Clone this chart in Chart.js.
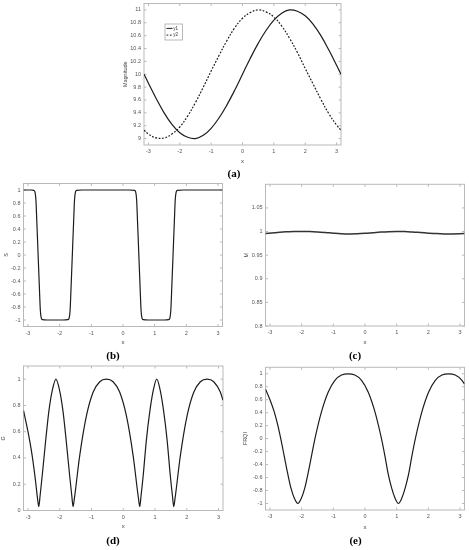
<!DOCTYPE html>
<html><head><meta charset="utf-8">
<script src="https://cdn.jsdelivr.net/npm/chart.js@4"></script>
<style>
body{margin:0;background:#fff;width:469px;height:550px;position:relative;overflow:hidden}
canvas{position:absolute}
.cap{position:absolute;font:bold 11px "Liberation Serif","Times New Roman",serif;color:#000;transform:translate(-50%,-50%);white-space:nowrap;line-height:1}
</style></head><body>
<script>
// ---------- data ----------
const xTicks = [-3, -2, -1, 0, 1, 2, 3];
const xTickLabels = ['-3', '-2', '-1', '0', '1', '2', '3'];

// (a) Magnitude
const xA = [-3.14,-3.0,-2.75,-2.5,-2.25,-2.0,-1.75,-1.5,-1.25,-1.0,-0.75,-0.5,-0.25,0,0.25,0.5,0.75,1.0,1.25,1.5,1.75,2.0,2.25,2.5,2.75,3.0,3.14];
const y1 = [10.00,9.86,9.62,9.40,9.22,9.09,9.02,9.00,9.05,9.16,9.32,9.52,9.75,10.00,10.25,10.48,10.68,10.84,10.95,11.00,10.98,10.91,10.78,10.60,10.38,10.14,10.00];
const y2 = [9.13,9.07,9.01,9.01,9.07,9.18,9.35,9.56,9.80,10.05,10.29,10.52,10.72,10.87,10.96,11.00,10.97,10.89,10.75,10.56,10.34,10.09,9.85,9.61,9.39,9.21,9.13];
const yTicksA = [9, 9.2, 9.4, 9.6, 9.8, 10, 10.2, 10.4, 10.6, 10.8, 11];
const yLabelsA = ['9','9.2','9.4','9.6','9.8','10','10.2','10.4','10.6','10.8','11'];

// (b) S
const xS = [-3.14,-3.0,-2.9,-2.82,-2.78,-2.75,-2.72,-2.68,-2.64,-2.61,-2.58,-2.54,-2.4,-2.1,-1.9,-1.74,-1.70,-1.67,-1.64,-1.60,-1.56,-1.53,-1.50,-1.46,-1.3,0,0.2,0.36,0.40,0.43,0.46,0.50,0.54,0.57,0.60,0.64,0.8,1.1,1.3,1.44,1.48,1.51,1.54,1.58,1.62,1.65,1.68,1.72,1.9,2.5,3.14];
const yS = [1,1,1,0.995,0.97,0.85,0.5,0,-0.5,-0.85,-0.97,-0.995,-1,-1,-1,-0.995,-0.97,-0.85,-0.5,0,0.5,0.85,0.97,0.995,1,1,1,0.995,0.97,0.85,0.5,0,-0.5,-0.85,-0.97,-0.995,-1,-1,-1,-0.995,-0.97,-0.85,-0.5,0,0.5,0.85,0.97,0.995,1,1,1];
const yTicksB = [-1,-0.8,-0.6,-0.4,-0.2,0,0.2,0.4,0.6,0.8,1];
const yLabelsB = ['-1','-0.8','-0.6','-0.4','-0.2','0','0.2','0.4','0.6','0.8','1'];

// (c) M
const xM = [-3.14,-2.75,-2.5,-2.25,-2.0,-1.75,-1.5,-1.25,-1.0,-0.75,-0.5,-0.25,0,0.25,0.5,0.75,1.0,1.25,1.5,1.75,2.0,2.25,2.5,2.75,3.14];
const yM = [0.9960,0.9982,0.9994,1.0000,1.0002,1.0000,0.9992,0.9980,0.9966,0.9955,0.9950,0.9953,0.9962,0.9975,0.9988,0.9997,1.0001,0.9999,0.9990,0.9978,0.9966,0.9956,0.9950,0.9950,0.9957];
const yTicksC = [0.8, 0.85, 0.9, 0.95, 1, 1.05];
const yLabelsC = ['0.8','0.85','0.9','0.95','1','1.05'];

// (d) G
const xG = [-3.14,-3.0,-2.87,-2.76,-2.70,-2.66,-2.62,-2.55,-2.44,-2.34,-2.23,-2.12,-2.01,-1.90,-1.80,-1.69,-1.62,-1.58,-1.54,-1.37,-1.16,-0.95,-0.74,-0.53,-0.32,-0.11,0.10,0.31,0.48,0.52,0.56,0.63,0.73,0.84,0.95,1.055,1.16,1.27,1.38,1.48,1.55,1.59,1.63,1.80,2.01,2.22,2.43,2.64,2.85,3.06,3.14];
const yG = [0.76,0.60,0.42,0.22,0.09,0.03,0.11,0.27,0.54,0.76,0.92,1.0,0.92,0.76,0.54,0.27,0.11,0.03,0.09,0.42,0.72,0.90,0.98,1.0,0.98,0.90,0.72,0.42,0.09,0.03,0.11,0.27,0.54,0.76,0.92,1.0,0.92,0.76,0.54,0.27,0.11,0.03,0.09,0.42,0.72,0.90,0.98,1.0,0.98,0.90,0.84];
const yTicksD = [0, 0.2, 0.4, 0.6, 0.8, 1];
const yLabelsD = ['0','0.2','0.4','0.6','0.8','1'];

// (e) FRQI
const xF = [-3.14,-3.0,-2.87,-2.76,-2.66,-2.55,-2.44,-2.34,-2.23,-2.12,-2.01,-1.90,-1.80,-1.69,-1.58,-1.37,-1.16,-0.95,-0.74,-0.53,-0.32,-0.11,0.10,0.31,0.52,0.63,0.73,0.84,0.95,1.055,1.16,1.27,1.38,1.48,1.59,1.80,2.01,2.22,2.43,2.64,2.85,3.06,3.14];
const yF = [0.76,0.60,0.42,0.22,0,-0.27,-0.54,-0.76,-0.92,-1.0,-0.92,-0.76,-0.54,-0.27,0,0.42,0.72,0.90,0.98,1.0,0.98,0.90,0.72,0.42,0,-0.27,-0.54,-0.76,-0.92,-1.0,-0.92,-0.76,-0.54,-0.27,0,0.42,0.72,0.90,0.98,1.0,0.98,0.90,0.84];
const yTicksE = yTicksB;
const yLabelsE = yLabelsB;

// ---------- drawing ----------
const FONT = '"Liberation Sans", Arial, sans-serif';
const TICK_SIZE = 5.5, XT_SIZE = 6, YT_SIZE = 5.5;
const AXIS_GRAY = '#b9b9b9';

const pts = (xs, ys) => xs.map((x, i) => ({x, y: ys[i]}));

const frame = {
  id: 'frame',
  beforeDatasetsDraw(chart) {
    const {ctx, chartArea: {left, right, top, bottom}, scales: {x, y}} = chart;
    ctx.save();
    ctx.strokeStyle = AXIS_GRAY; ctx.lineWidth = 1;
    ctx.strokeRect(left, top, right - left, bottom - top);
    const t = 2.5;
    ctx.beginPath();
    x.ticks.forEach(tk => {
      const px = x.getPixelForValue(tk.value);
      ctx.moveTo(px, bottom); ctx.lineTo(px, bottom - t);
      ctx.moveTo(px, top); ctx.lineTo(px, top + t);
    });
    y.ticks.forEach(tk => {
      const py = y.getPixelForValue(tk.value);
      ctx.moveTo(left, py); ctx.lineTo(left + t, py);
      ctx.moveTo(right, py); ctx.lineTo(right - t, py);
    });
    ctx.stroke();
    ctx.restore();
  }
};

const innerLegend = {
  id: 'innerLegend',
  afterDraw(chart) {
    const {ctx, chartArea: {left, top}} = chart;
    const bx = left + 21, by = top + 20.5, bw = 17.5, bh = 16;
    ctx.save();
    ctx.fillStyle = '#fff'; ctx.fillRect(bx, by, bw, bh);
    ctx.strokeStyle = '#a8a8a8'; ctx.lineWidth = 0.8; ctx.strokeRect(bx, by, bw, bh);
    chart.data.datasets.forEach((ds, i) => {
      const yy = by + 4.4 + i * 6.7;
      ctx.strokeStyle = ds.borderColor; ctx.lineWidth = 1;
      ctx.setLineDash(ds.borderDash || []);
      ctx.beginPath(); ctx.moveTo(bx + 1.5, yy); ctx.lineTo(bx + 7.5, yy); ctx.stroke();
      ctx.setLineDash([]);
      ctx.fillStyle = '#333'; ctx.font = '4.5px ' + FONT; ctx.textBaseline = 'middle';
      ctx.fillText(ds.label, bx + 8.2, yy);
    });
    ctx.restore();
  }
};

function panel(p) {
  const [cx, cy, cw, ch] = p.rect, [L, R, T, B] = p.box;
  const c = document.createElement('canvas');
  c.width = cw; c.height = ch;
  c.style.left = cx + 'px'; c.style.top = cy + 'px';
  c.style.width = cw + 'px'; c.style.height = ch + 'px';
  document.body.appendChild(c);
  const yHalf = YT_SIZE * 1.2 / 2, xHalf = XT_SIZE * 1.2 / 2;
  const pl = p.yTitleX - cx - yHalf;
  const yw = L - cx - pl;
  const xh = p.xTitleY - B + xHalf;
  const pb = cy + ch - B - xh;
  new Chart(c, {
    type: 'line',
    data: {datasets: p.datasets},
    options: {
      responsive: false, animation: false, devicePixelRatio: 1,
      layout: {autoPadding: false, padding: {left: pl, right: cx + cw - R, top: T - cy, bottom: pb}},
      plugins: {legend: {display: false}, tooltip: {enabled: false}},
      elements: {point: {radius: 0}},
      events: [],
      scales: {
        x: {
          type: 'linear', min: -Math.PI, max: Math.PI, bounds: 'data',
          afterBuildTicks: s => { s.ticks = xTicks.map(v => ({value: v})); },
          afterFit: s => { s.height = xh; s.paddingLeft = 0; s.paddingRight = 0; },
          grid: {display: false, drawTicks: false}, border: {display: false},
          ticks: {autoSkip: false, maxRotation: 0, padding: 3.2, color: '#555',
                  font: {size: TICK_SIZE, family: FONT}, callback: (v, i) => xTickLabels[i]},
          title: {display: true, text: 'x', color: '#444', padding: 0,
                  font: {size: XT_SIZE, family: FONT}}
        },
        y: {
          type: 'linear', min: p.ymin, max: p.ymax, bounds: 'data',
          afterBuildTicks: s => { s.ticks = p.yTicks.map(v => ({value: v})); },
          afterFit: s => { s.width = yw; s.paddingTop = 0; s.paddingBottom = 0; },
          grid: {display: false, drawTicks: false}, border: {display: false},
          ticks: {autoSkip: false, padding: 3, color: '#555',
                  font: {size: TICK_SIZE, family: FONT}, callback: (v, i) => p.yLabels[i]},
          title: {display: true, text: p.yTitle, color: '#444', padding: 0,
                  font: {size: YT_SIZE, family: FONT}}
        }
      }
    },
    plugins: p.legend ? [frame, innerLegend] : [frame]
  });
}

const lineDs = (label, xs, ys, extra) => Object.assign({
  label, data: pts(xs, ys), borderColor: '#1c1c1c', borderWidth: 1.2,
  fill: false, pointRadius: 0, cubicInterpolationMode: 'monotone'
}, extra || {});

panel({rect: [100, 0, 250, 180], box: [144, 341, 3.5, 145], yTitleX: 125, xTitleY: 161,
  ymin: 8.9, ymax: 11.1, yTicks: yTicksA, yLabels: yLabelsA, yTitle: 'Magnitude', legend: true,
  datasets: [
    lineDs('y1', xA, y1, {cubicInterpolationMode: 'default', tension: 0.4}),
    lineDs('y2', xA, y2, {cubicInterpolationMode: 'default', tension: 0.4, borderDash: [1.8, 1.6]})
  ]});

panel({rect: [0, 175, 232, 175], box: [23.5, 222.5, 183.5, 326.5], yTitleX: 6.7, xTitleY: 342,
  ymin: -1.1, ymax: 1.1, yTicks: yTicksB, yLabels: yLabelsB, yTitle: 'S',
  datasets: [lineDs('S', xS, yS)]});

panel({rect: [235, 175, 234, 175], box: [265.5, 464.5, 184.3, 326], yTitleX: 246, xTitleY: 342,
  ymin: 0.8, ymax: 1.1, yTicks: yTicksC, yLabels: yLabelsC, yTitle: 'M',
  datasets: [lineDs('M', xM, yM, {cubicInterpolationMode: 'default', tension: 0.4, borderWidth: 1.5, borderColor: '#333'})]});

panel({rect: [0, 355, 232, 195], box: [23.5, 223, 366, 510.5], yTitleX: 3.8, xTitleY: 526.7,
  ymin: 0, ymax: 1.1, yTicks: yTicksD, yLabels: yLabelsD, yTitle: 'G',
  datasets: [lineDs('G', xG, yG)]});

panel({rect: [235, 355, 234, 195], box: [265.5, 464.5, 367.3, 510], yTitleX: 245, xTitleY: 527,
  ymin: -1.1, ymax: 1.1, yTicks: yTicksE, yLabels: yLabelsE, yTitle: 'FRQI',
  datasets: [lineDs('FRQI', xF, yF)]});

// captions
[['(a)', 234, 173], ['(b)', 113, 355], ['(c)', 355, 355], ['(d)', 113, 539.5], ['(e)', 355.5, 539.5]]
  .forEach(([t, x, y]) => {
    const d = document.createElement('div');
    d.className = 'cap'; d.textContent = t;
    d.style.left = x + 'px'; d.style.top = y + 'px';
    document.body.appendChild(d);
  });
</script>
</body></html>
